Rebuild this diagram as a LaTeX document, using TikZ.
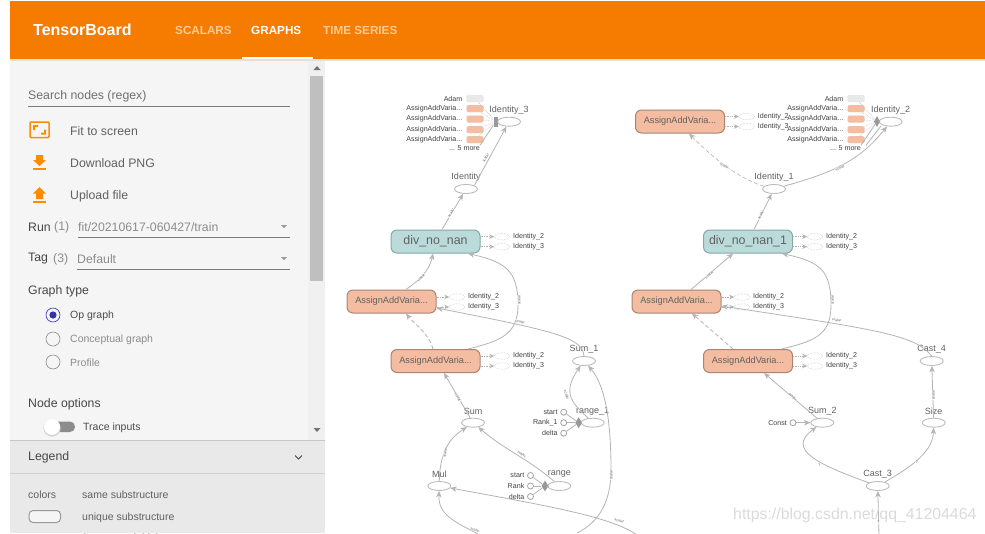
\documentclass[tikz,border=0pt]{standalone}
\usepackage{fontspec}
\setmainfont{Liberation Sans}
\usetikzlibrary{arrows.meta,shapes.geometric}
\definecolor{tborange}{HTML}{F57C00}
\definecolor{tbgray}{HTML}{F5F5F5}
\definecolor{tblegend}{HTML}{E9E9E9}
\definecolor{tbtext}{HTML}{616161}
\definecolor{tbfaint}{HTML}{8C8C8C}
\definecolor{tbline}{HTML}{7A7A7A}
\definecolor{edgecol}{HTML}{B4B4B4}
\definecolor{opcol}{HTML}{BDBDBD}
\definecolor{assignfill}{HTML}{F4BCA1}
\definecolor{assigndraw}{HTML}{A98572}
\definecolor{divfill}{HTML}{BBDBDB}
\definecolor{divdraw}{HTML}{86A8A8}
\tikzset{
  opnode/.style={ellipse,draw=opcol,line width=0.9pt,fill=white,minimum width=23pt,minimum height=9pt,inner sep=0pt},
  optext/.style={font=\fontsize{9}{10}\selectfont,text=tbtext,inner sep=0pt},
  metabox/.style={rectangle,rounded corners=6pt,line width=1pt,minimum width=89pt,minimum height=23pt,inner sep=0pt},
  assignbox/.style={metabox,fill=assignfill,draw=assigndraw,font=\fontsize{9.2}{11}\selectfont,text=tbtext},
  divbox/.style={metabox,fill=divfill,draw=divdraw,font=\fontsize{12.4}{14}\selectfont,text=tbtext},
  auxell/.style={ellipse,draw=opcol,densely dotted,line width=0.5pt,minimum width=15pt,minimum height=6.5pt,inner sep=0pt},
  auxtext/.style={font=\fontsize{7.1}{8}\selectfont,text=black!75,inner sep=0pt},
  auxrect/.style={rectangle,rounded corners=2pt,draw=white!70!gray,densely dotted,line width=0.4pt,minimum width=17pt,minimum height=7pt,inner sep=0pt},
  constnode/.style={circle,draw=tbfaint!80,line width=0.8pt,fill=white,minimum size=6pt,inner sep=0pt},
  bundle/.style={diamond,fill=edgecol!85!black,minimum width=7pt,minimum height=11pt,inner sep=0pt},
  slab/.style={rectangle,fill=edgecol!85!black,minimum width=4pt,minimum height=10pt,inner sep=0pt},
  flow/.style={draw=edgecol,line width=0.8pt,-{Stealth[length=6.5pt,width=5.5pt]}},
  ctrl/.style={flow,dash pattern=on 4pt off 2.5pt},
  auxflow/.style={draw=edgecol,densely dotted,line width=0.7pt,-{Stealth[length=5pt,width=4.5pt]}},
  thin line/.style={draw=edgecol,line width=0.8pt},
  dot line/.style={draw=edgecol,densely dotted,line width=0.5pt},
  elabel/.style={font=\fontsize{3.6}{4}\selectfont,text=tbtext,fill=white,fill opacity=0.7,text opacity=1,inner sep=0.3pt},
  side/.style={font=\fontsize{12.3}{14}\selectfont,text=tbtext,anchor=west,inner sep=0pt,yshift=-0.9pt},
  sidedark/.style={side,text=black!72},
  sidefaint/.style={side,text=tbfaint},
  small side/.style={side,font=\fontsize{10.5}{12}\selectfont},
  tab/.style={font=\bfseries\fontsize{11.7}{14}\selectfont,anchor=west,inner sep=0pt},
  rule/.style={draw=tbline,line width=0.7pt},
  radio/.style={circle,draw=tbfaint,line width=0.6pt,minimum size=14pt,inner sep=0pt},
  iconcol/.style={fill=orange!90!yellow,draw=none},
}
\newcommand{\opn}[4]{\node[opnode] (#1) at (#2,#3) {}; \node[optext] (#1-t) at (#2,#3-11.5) {#4};}
\newcommand{\auxp}[3]{%
  \node[auxell] (#1-a) at (#2,#3-5) {};
  \node[auxell] (#1-b) at (#2,#3+5) {};
  \node[auxtext,anchor=west] (#1-at) at (#2+11,#3-5) {Identity\_2};
  \node[auxtext,anchor=west] (#1-bt) at (#2+11,#3+5) {Identity\_3};
  \draw[auxflow] (#1.east |- #1-a) -- (#1-a);
  \draw[auxflow] (#1.east |- #1-b) -- (#1-b);}
\newcommand{\inrect}[5]{%
  \node[auxrect,fill=#5] (#1) at (#2,#3) {};
  \node[auxtext,anchor=east] (#1-t) at (#2-12.5,#3) {#4};}
\newcommand{\summary}[3]{% prefix, x of rects, bundle
  \inrect{#1a}{#2}{98.5}{Adam}{tblegend}
  \inrect{#1b}{#2}{108.7}{AssignAddVaria...}{assignfill}
  \inrect{#1c}{#2}{119}{AssignAddVaria...}{assignfill}
  \inrect{#1d}{#2}{129.7}{AssignAddVaria...}{assignfill}
  \inrect{#1e}{#2}{139.7}{AssignAddVaria...}{assignfill}
  \node[auxtext,anchor=east] (#1f) at (#2+5,148) {... 5 more};
  \foreach \nn in {a,b,c,d,e} {\draw[dot line] (#1\nn) -- (#3);}
  \draw[thin line] (#1f.north east) -- (#3);}
\newcommand{\bparts}[5]{% prefix, x circles, y centre, bundle name, labels
  \node[constnode] (#1s) at (#2,#3-10.5) {};
  \node[constnode] (#1r) at (#2,#3) {};
  \node[constnode] (#1d) at (#2,#3+10.5) {};
  \node[auxtext,anchor=east] (#1st) at (#2-6,#3-10.5) {start};
  \node[auxtext,anchor=east] (#1rt) at (#2-6,#3) {#5};
  \node[auxtext,anchor=east] (#1dt) at (#2-6,#3+10.5) {delta};
  \draw[thin line] (#1s) -- (#4); \draw[thin line] (#1r) -- (#4); \draw[thin line] (#1d) -- (#4);}
\begin{document}
\begin{tikzpicture}[x=1pt,y=-1pt]
\useasboundingbox (0,0) rectangle (985,533);
\fill[white] (0,0) rectangle (985,533);
% ---------- sidebar
\fill[tbgray] (10,59) rectangle (325,440);
\fill[black!6] (308,59) rectangle (325,440);
\fill[tblegend] (10,440) rectangle (325,533);
\draw[black!22,line width=0.7pt] (10,440.5) -- (325,440.5);
\draw[black!18,line width=0.7pt] (10,473.5) -- (325,473.5);
\fill[black!25] (310,76) rectangle (323,281);
\fill[black!55] (317,66) -- (320.5,70) -- (313.5,70) -- cycle;
\fill[black!55] (317,432) -- (320.5,428) -- (313.5,428) -- cycle;
% ---------- header
\fill[black!12] (10,59) rectangle (985,61);
\fill[tborange] (10,1) rectangle (985,59);
\node[font=\bfseries\fontsize{16}{18}\selectfont,text=white,anchor=west,inner sep=0pt] (brand) at (33,30) {TensorBoard};
\node[tab,text=white!60!tborange] (tabs) at (175,30) {SCALARS};
\node[tab,text=white] (tabg) at (251,30) {GRAPHS};
\node[tab,text=white!60!tborange] (tabt) at (323,30) {TIME SERIES};
\fill[white] (242,57) rectangle (313,59);
% ---------- sidebar controls
\node[side,text=tbfaint!80!black] (search) at (28,95) {Search nodes (regex)};
\draw[rule] (28,106.5) -- (290,106.5);
\draw[orange!90!yellow,line width=1.5pt,rounded corners=1pt] (30,122) rectangle (49,137.5);
\fill[orange!90!yellow] (33,125) rectangle (38,127) (33,125) rectangle (35,130);
\fill[orange!90!yellow] (46,134.5) rectangle (41,132.5) (46,134.5) rectangle (44,129.5);
\node[side] (fit) at (70,130) {Fit to screen};
\fill[iconcol] (36,155) -- (43,155) -- (43,160) -- (46,160) -- (39.5,166) -- (33,160) -- (36,160) -- cycle;
\fill[iconcol] (33,168) rectangle (46,170);
\node[side] (dl) at (70,162.5) {Download PNG};
\fill[iconcol] (36,199) -- (43,199) -- (43,193.5) -- (46,193.5) -- (39.5,187) -- (33,193.5) -- (36,193.5) -- cycle;
\fill[iconcol] (33,200.5) rectangle (46,202.5);
\node[side] (ul) at (70,195) {Upload file};
\node[sidedark] (runl) at (28,226) {Run};
\node[sidefaint] (runn) at (54,226) {(1)};
\node[sidefaint] (runv) at (78,226) {fit/20210617-060427/train};
\draw[rule] (78,237.5) -- (290,237.5);
\fill[black!40] (281,225) -- (287,225) -- (284,228) -- cycle;
\node[sidedark] (tagl) at (28,258) {Tag};
\node[sidefaint] (tagn) at (53,258) {(3)};
\node[sidefaint] (tagv) at (77,258) {Default};
\draw[rule] (77,269.5) -- (290,269.5);
\fill[black!40] (281,257) -- (287,257) -- (284,260) -- cycle;
\node[sidedark] (gt) at (28,290) {Graph type};
\node[radio,draw=blue!60!black!80] (r1) at (53,315) {};
\fill[blue!60!black!80] (r1) circle (3.6pt);
\node[small side,text=black!70] (r1t) at (70,315) {Op graph};
\node[radio] (r2) at (53,339) {};
\node[small side,text=tbfaint] (r2t) at (70,339) {Conceptual graph};
\node[radio] (r3) at (53,362) {};
\node[small side,text=tbfaint] (r3t) at (70,362) {Profile};
\node[sidedark] (no) at (28,403) {Node options};
\fill[black!45,rounded corners=5pt] (46,421.5) rectangle (75,432);
\fill[black!18] (52,428) circle (8.6pt);
\fill[white] (52,427) circle (8pt);
\node[small side,text=black!70] (ti) at (83,426.5) {Trace inputs};
\node[sidedark] (leg) at (28,456.5) {Legend};
\draw[black!75,line width=1pt] (295,455.5) -- (298.5,459) -- (302,455.5);
\node[small side] (lc) at (28,494) {colors};
\node[small side] (ls) at (82,494) {same substructure};
\draw[black!40,fill=tbgray,line width=1pt,rounded corners=4pt] (29,510.5) rectangle (60.5,522.5);
\node[small side] (lu) at (82,517) {unique substructure};
\begin{scope}
\clip (10,525) rectangle (325,533);
\node[small side] (le) at (82,538) {(* = expandable)};
\end{scope}
% ---------- left column nodes
\opn{idf}{509}{121.7}{Identity\_3}
\opn{idl}{466}{189}{Identity}
\node[divbox] (divl) at (435.5,241.5) {div\_no\_nan};
\node[assignbox] (aa1) at (391.5,301.5) {AssignAddVaria...};
\node[assignbox] (aa2) at (435.5,361) {AssignAddVaria...};
\opn{suma}{584}{361}{Sum\_1}
\opn{sumb}{473}{422.7}{Sum}
\opn{rangea}{592.7}{422.7}{range\_1}
\opn{mul}{439.3}{486}{Mul}
\opn{rangeb}{559.3}{486}{range}
\node[slab] (bl) at (495.7,121.5) {};
\node[bundle] (bra) at (578.7,422.7) {};
\node[bundle] (brb) at (545,486) {};
\summary{ls}{475}{bl}
\draw[thin line] (bl) -- (idf);
\auxp{divl}{502}{241.7}
\auxp{aa1}{457}{302}
\auxp{aa2}{502}{361}
\bparts{pa}{563.7}{422.7}{bra}{Rank\_1}
\bparts{pb}{530.5}{486}{brb}{Rank}
\draw[thin line] (bra) -- (rangea);
\draw[thin line] (brb) -- (rangeb);
% left column edges
\coordinate (lbot1) at (480,535);
\coordinate (lbot2) at (640,537);
\coordinate (lbot3) at (577,533);
\draw[flow] (idl.north east) -- (idf);
\draw[flow] (divl.north -| 442,0) -- (idl);
\draw[flow] (aa1.north -| 406,0) .. controls (418,281) and (429,272) .. (divl.south -| 433,0);
\draw[flow] (aa2.north -| 468,0) .. controls (500,341) and (518,335) .. (518,305) .. controls (518,270) and (505,262) .. (divl.south -| 468,0);
\draw[ctrl] (aa2.north -| 433,0) .. controls (428,332) and (415,325) .. (aa1.south -| 406,0);
\draw[flow] (suma.north) .. controls (582,338) and (560,332) .. (aa1.east |- 0,308);
\draw[flow] (sumb) -- (aa2.south -| 444,0);
\draw[flow] (mul.north) .. controls (440,445) and (455,435) .. (sumb);
\draw[flow] (rangeb) .. controls (530,460) and (505,450) .. (sumb);
\draw[flow] (rangea) .. controls (575,405) and (560,395) .. (suma);
\draw[flow] (lbot3) .. controls (600,522) and (611,500) .. (611,470) .. controls (611,420) and (605,385) .. (suma);
\draw[flow] (lbot2) .. controls (615,518) and (560,508) .. (mul);
\draw[flow] (lbot1) .. controls (455,522) and (438,515) .. (mul);
% ---------- right column nodes
\node[assignbox] (aat) at (680,121.5) {AssignAddVaria...};
\opn{idr}{890.7}{121.7}{Identity\_2}
\opn{ido}{774}{189}{Identity\_1}
\node[divbox] (divr) at (748,241.5) {div\_no\_nan\_1};
\node[assignbox] (aa3) at (676.5,301.5) {AssignAddVaria...};
\node[assignbox] (aa4) at (748,361) {AssignAddVaria...};
\opn{castf}{931.7}{361}{Cast\_4}
\opn{sumc}{822.3}{422.7}{Sum\_2}
\opn{size}{933.7}{422.7}{Size}
\opn{castt}{877.7}{486}{Cast\_3}
\node[bundle,minimum width=6pt] (brt) at (877,121.5) {};
\summary{rs}{856}{brt}
\draw[thin line] (brt) -- (idr);
\draw[thin line] (rsf.north east -| 866,0) -- (881,126);
\auxp{aat}{746.7}{121.5}
\auxp{divr}{815}{241.7}
\auxp{aa3}{742}{302}
\auxp{aa4}{815}{361}
\node[constnode] (cst) at (793,422.7) {};
\node[auxtext,anchor=east] (cstt) at (787,422.7) {Const};
\draw[flow,line width=0.7pt] (cst) -- (sumc);
% right column edges
\coordinate (rbot) at (879,535);
\draw[ctrl,line width=0.6pt] (ido) .. controls (735,178) and (705,150) .. (aat.south -| 689,0);
\draw[flow] (ido) .. controls (835,172) and (860,160) .. (idr);
\draw[flow] (divr.north -| 754,0) -- (ido);
\draw[flow] (aa3.north -| 691,0) -- (divr.south -| 733,0);
\draw[flow] (aa4.north -| 781.5,0) .. controls (815,341) and (831,335) .. (831,305) .. controls (831,270) and (820,262) .. (divr.south -| 782,0);
\draw[ctrl] (aa4.north -| 733,0) -- (aa3.south -| 692,0);
\draw[flow] (castf.north) .. controls (915,335) and (880,330) .. (aa3.east |- 0,306);
\draw[flow] (sumc) -- (aa4.south -| 764,0);
\draw[flow] (size) -- (castf);
\draw[flow] (castt) .. controls (820,465) and (785,450) .. (sumc);
\draw[flow] (castt) .. controls (915,465) and (933,450) .. (size);
\draw[flow] (rbot) -- (castt);
% ---------- edge labels
\foreach \nm/\px/\py/\rot in {a/485.7/158/58,b/451/213/60,c/421/277.7/45,d/519/300/90,e/520/321.7/-10,f/458/397/-60,g/445/453/80,h/521.7/454/-35,i/566.7/395/-70,j/611/475/90,k/619.3/520.7/-12,l/475/530/-20,m/724.3/166/-30,n/840/168/25,o/760.7/215/65,p/709.3/275/40,q/832.3/300/90,r/836.7/320/-8,s/792.7/396.7/-42,t/933.3/395/90}
  {\node[elabel,rotate=\rot] (lab\nm) at (\px,\py) {scalar};}
\foreach \nm/\px/\py in {u/819.3/465,v/916.7/462.3,w/878.3/522.7}
  {\node[elabel] (lab\nm) at (\px,\py) {?};}
% ---------- watermark
\node[font=\fontsize{15.85}{18}\selectfont,text=black!14,anchor=west,inner sep=0pt] (wm) at (733,515) {https://blog.csdn.net/qq\_41204464};
\end{tikzpicture}
\end{document}
